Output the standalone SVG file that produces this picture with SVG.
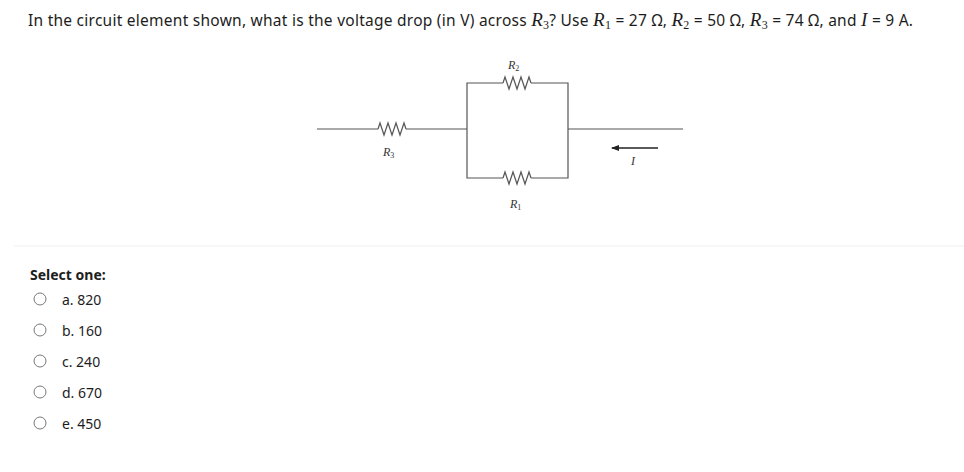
<svg xmlns="http://www.w3.org/2000/svg" width="964" height="472" viewBox="0 0 964 472">
<style>
.t{font-family:"Noto Sans","Open Sans",sans-serif;font-size:14px;fill:#1d1d1d}
.h{font-size:15.5px}
.m{font-family:"Liberation Serif",serif;font-style:italic;font-size:19px;fill:#1d1d1d}
.s{font-family:"Liberation Serif",serif;font-size:12px;fill:#1d1d1d}
.ml{font-family:"Liberation Serif",serif;font-style:italic;font-size:12px;fill:#333}
.w{fill:none;stroke:#555;stroke-width:1.2}
.c{fill:#fff;stroke:#777;stroke-width:1}
</style>
<defs><marker id="ah" markerWidth="8" markerHeight="6" refX="7" refY="3" orient="auto" markerUnits="userSpaceOnUse"><path d="M0,0 L8,3 L0,6 z" fill="#222"/></marker></defs>
<rect width="964" height="472" fill="#fff"/>
<text class="t h" x="28" y="26" textLength="885" lengthAdjust="spacing">In the circuit element shown, what is the voltage drop (in V) across <tspan class="m">R</tspan><tspan class="s" dy="3">3</tspan><tspan dy="-3">? Use </tspan><tspan class="m">R</tspan><tspan class="s" dy="3">1</tspan><tspan dy="-3"> = 27 Ω, </tspan><tspan class="m">R</tspan><tspan class="s" dy="3">2</tspan><tspan dy="-3"> = 50 Ω, </tspan><tspan class="m">R</tspan><tspan class="s" dy="3">3</tspan><tspan dy="-3"> = 74 Ω, and </tspan><tspan class="m">I</tspan><tspan> = 9 A.</tspan></text>
<g id="connectors">
<path class="w" d="M317,129 H378 M406,129 H467 V83 H503 M531,83 H568 V178 H531 M503,178 H467 V129 M568,129 H683"/>
<line x1="658" y1="148" x2="612" y2="148" stroke="#222" stroke-width="1.5" marker-end="url(#ah)"/>
</g>
<g id="R3"><path class="w" d="M378,129 l2,-6 l4,12 l4,-12 l4,12 l4,-12 l4,12 l4,-12 l2,6"/><text class="ml" x="383" y="156">R<tspan font-size="8" dy="2" font-style="normal">3</tspan></text></g>
<g id="R2"><path class="w" d="M503,83 l2,-6 l4,12 l4,-12 l4,12 l4,-12 l4,12 l4,-12 l2,6"/><text class="ml" x="508" y="69">R<tspan font-size="8" dy="2" font-style="normal">2</tspan></text></g>
<g id="R1"><path class="w" d="M503,178 l2,-6 l4,12 l4,-12 l4,12 l4,-12 l4,12 l4,-12 l2,6"/><text class="ml" x="510" y="208">R<tspan font-size="8" dy="2" font-style="normal">1</tspan></text></g>
<text class="ml" x="631" y="165">I</text>
<line x1="14" y1="246" x2="964" y2="246" stroke="#eee"/>
<text class="t" x="30" y="280" font-weight="bold">Select one:</text>
<g class="t">
<circle class="c" cx="40" cy="299" r="6"/><text x="62" y="305">a. 820</text>
<circle class="c" cx="40" cy="330" r="6"/><text x="62" y="336">b. 160</text>
<circle class="c" cx="40" cy="361" r="6"/><text x="62" y="367">c. 240</text>
<circle class="c" cx="40" cy="392" r="6"/><text x="62" y="398">d. 670</text>
<circle class="c" cx="40" cy="423" r="6"/><text x="62" y="429">e. 450</text>
</g>
</svg>
